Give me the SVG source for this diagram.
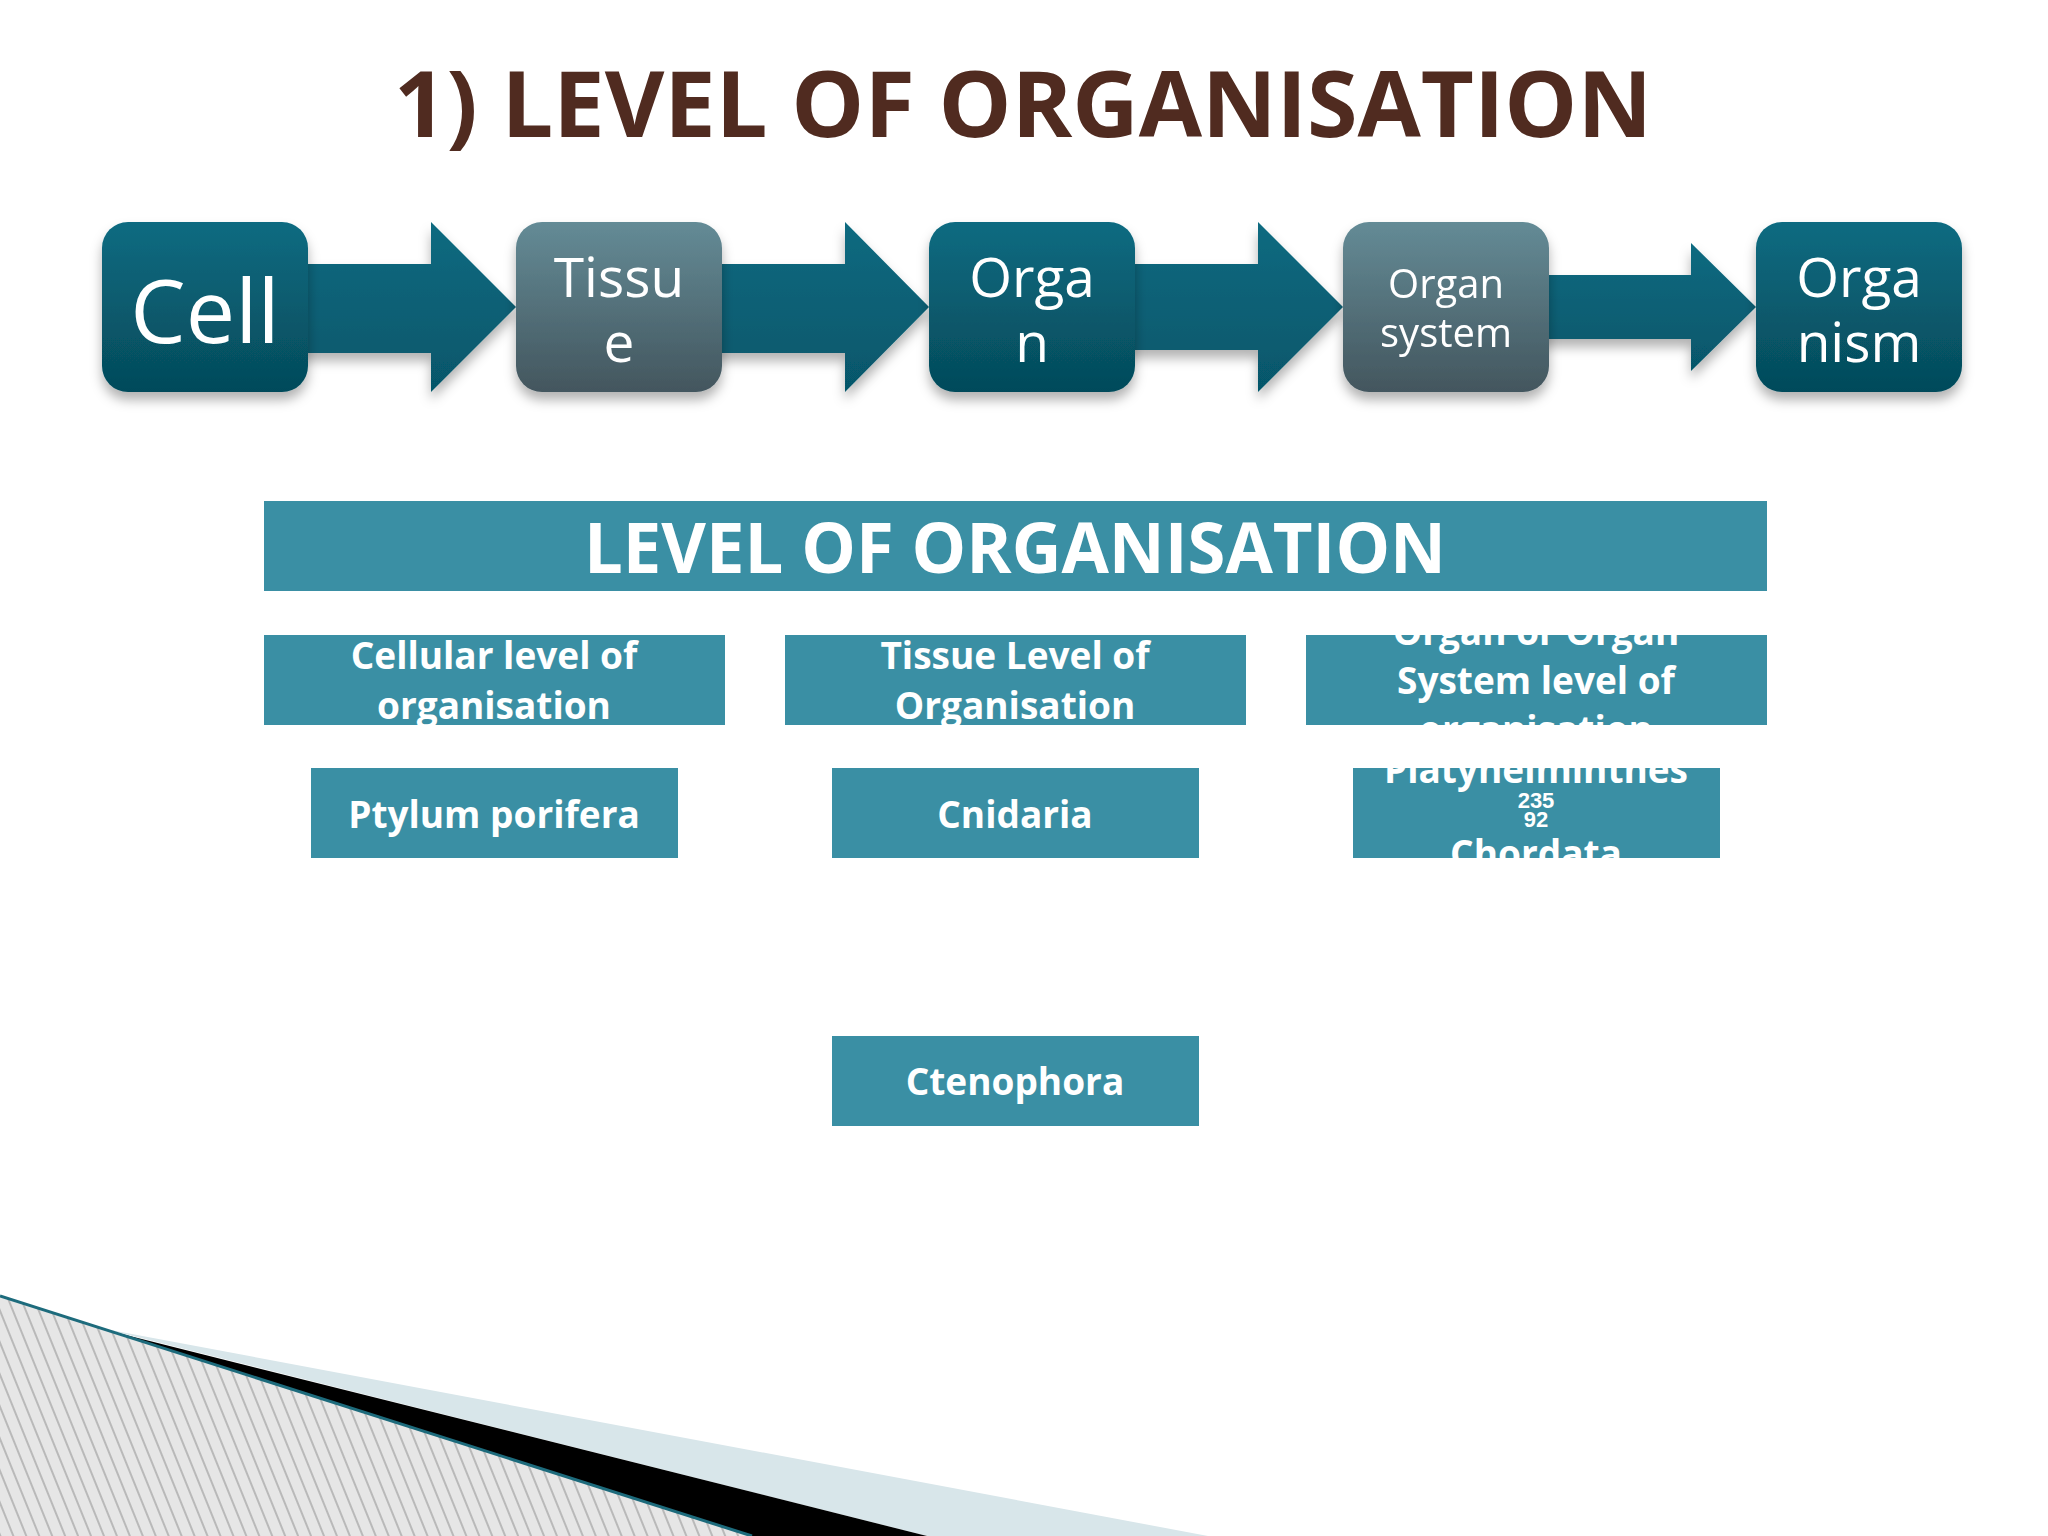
<svg xmlns="http://www.w3.org/2000/svg" width="2048" height="1536" viewBox="0 0 2048 1536">
  <defs>
    <linearGradient id="gTeal" x1="0" y1="0" x2="0" y2="1">
      <stop offset="0" stop-color="#0b6b81"/>
      <stop offset="1" stop-color="#054a5a"/>
    </linearGradient>
    <linearGradient id="gGrey" x1="0" y1="0" x2="0" y2="1">
      <stop offset="0" stop-color="#648b96"/>
      <stop offset="1" stop-color="#43565e"/>
    </linearGradient>
    <linearGradient id="gArrow" x1="0" y1="0" x2="0" y2="1">
      <stop offset="0" stop-color="#0b6a80"/>
      <stop offset="1" stop-color="#06566a"/>
    </linearGradient>
    <filter id="shadow" x="-20%" y="-20%" width="140%" height="150%">
      <feDropShadow dx="0" dy="8" stdDeviation="6" flood-color="#000" flood-opacity="0.3"/>
    </filter>
    <pattern id="hatch" width="12" height="12" patternUnits="userSpaceOnUse" patternTransform="rotate(-22)">
      <rect width="12" height="12" fill="#e6e6e6"/>
      <line x1="1" y1="0" x2="1" y2="12" stroke="#8c8c8c" stroke-width="1"/>
    </pattern>
    <clipPath id="clipB3"><rect x="1306" y="635" width="461" height="90"/></clipPath>
    <clipPath id="clipC3"><rect x="1353" y="768" width="367" height="90"/></clipPath>
  </defs>
  <style>
    .title { font-family: "Open Sans", "Noto Sans", sans-serif; font-weight: 700; fill: #502b20; }
    .big { font-family: "Open Sans", "Noto Sans", sans-serif; fill: #ffffff; text-anchor: middle; }
    .bar { fill: #3a8fa4; }
    .lbl { font-family: "Open Sans", "Noto Sans", sans-serif; font-weight: 700; fill: #ffffff; text-anchor: middle; font-size: 37px; }
    .sm { font-family: "Liberation Sans", Arial, sans-serif; font-weight: 700; fill: #ffffff; text-anchor: middle; font-size: 22px; }
  </style>
  <rect width="2048" height="1536" fill="#ffffff"/>

  <text class="title" x="394" y="137" font-size="91" textLength="1258" lengthAdjust="spacingAndGlyphs">1) LEVEL OF ORGANISATION</text>

  <g id="connectors" filter="url(#shadow)">
    <polygon fill="url(#gArrow)" points="290,264 431,264 431,222 516,307 431,392 431,353 290,353"/>
    <polygon fill="url(#gArrow)" points="700,264 845,264 845,222 929,307 845,392 845,353 700,353"/>
    <polygon fill="url(#gArrow)" points="1120,264 1258,264 1258,222 1343,307 1258,392 1258,350 1120,350"/>
    <polygon fill="url(#gArrow)" points="1530,275 1691,275 1691,243 1756,307 1691,371 1691,339 1530,339"/>
  </g>

  <g id="node-cell" filter="url(#shadow)">
    <rect x="102" y="222" width="206" height="170" rx="26" fill="url(#gTeal)"/>
    <text class="big" x="205" y="343" font-size="88">Cell</text>
  </g>
  <g id="node-tissue" filter="url(#shadow)">
    <rect x="516" y="222" width="206" height="170" rx="26" fill="url(#gGrey)"/>
    <text class="big" x="619" y="297" font-size="55">Tissu</text>
    <text class="big" x="619" y="362" font-size="55">e</text>
  </g>
  <g id="node-organ" filter="url(#shadow)">
    <rect x="929" y="222" width="206" height="170" rx="26" fill="url(#gTeal)"/>
    <text class="big" x="1032" y="297" font-size="55">Orga</text>
    <text class="big" x="1032" y="362" font-size="55">n</text>
  </g>
  <g id="node-organ-system" filter="url(#shadow)">
    <rect x="1343" y="222" width="206" height="170" rx="26" fill="url(#gGrey)"/>
    <text class="big" x="1446" y="298" font-size="40">Organ</text>
    <text class="big" x="1446" y="347" font-size="40">system</text>
  </g>
  <g id="node-organism" filter="url(#shadow)">
    <rect x="1756" y="222" width="206" height="170" rx="26" fill="url(#gTeal)"/>
    <text class="big" x="1859" y="297" font-size="55">Orga</text>
    <text class="big" x="1859" y="362" font-size="55">nism</text>
  </g>

  <g id="node-header">
    <rect class="bar" x="264" y="501" width="1503" height="90"/>
    <text class="lbl" x="1015" y="573" style="font-size:70px" textLength="862" lengthAdjust="spacingAndGlyphs">LEVEL OF ORGANISATION</text>
  </g>

  <g id="node-cellular">
    <rect class="bar" x="264" y="635" width="461" height="90"/>
    <text class="lbl" x="494" y="669">Cellular level of</text>
    <text class="lbl" x="494" y="719">organisation</text>
  </g>
  <g id="node-tissue-level">
    <rect class="bar" x="785" y="635" width="461" height="90"/>
    <text class="lbl" x="1015" y="669">Tissue Level of</text>
    <text class="lbl" x="1015" y="719">Organisation</text>
  </g>
  <g id="node-organ-level">
    <rect class="bar" x="1306" y="635" width="461" height="90"/>
    <g clip-path="url(#clipB3)">
      <text class="lbl" x="1536" y="645">Organ or Organ</text>
      <text class="lbl" x="1536" y="694">System level of</text>
      <text class="lbl" x="1536" y="743">organisation</text>
    </g>
  </g>

  <g id="node-porifera">
    <rect class="bar" x="311" y="768" width="367" height="90"/>
    <text class="lbl" x="494" y="828">Ptylum porifera</text>
  </g>
  <g id="node-cnidaria">
    <rect class="bar" x="832" y="768" width="367" height="90"/>
    <text class="lbl" x="1015" y="828">Cnidaria</text>
  </g>
  <g id="node-platy">
    <rect class="bar" x="1353" y="768" width="367" height="90"/>
    <g clip-path="url(#clipC3)">
      <text class="lbl" x="1536" y="783">Platyhelminthes</text>
      <text class="sm" x="1536" y="808">235</text>
      <text class="sm" x="1536" y="827">92</text>
      <text class="lbl" x="1536" y="867">Chordata</text>
    </g>
  </g>

  <g id="node-ctenophora">
    <rect class="bar" x="832" y="1036" width="367" height="90"/>
    <text class="lbl" x="1015" y="1095">Ctenophora</text>
  </g>

  <g id="decoration">
    <polygon fill="url(#hatch)" points="0,1296 752,1536 0,1536"/>
    <polygon fill="#d8e6ea" points="105,1329 1208,1536 927,1536"/>
    <polygon fill="#000000" points="110,1331 927,1536 752,1536"/>
    <line x1="0" y1="1296" x2="752" y2="1536" stroke="#1d6b7c" stroke-width="3"/>
  </g>
</svg>
